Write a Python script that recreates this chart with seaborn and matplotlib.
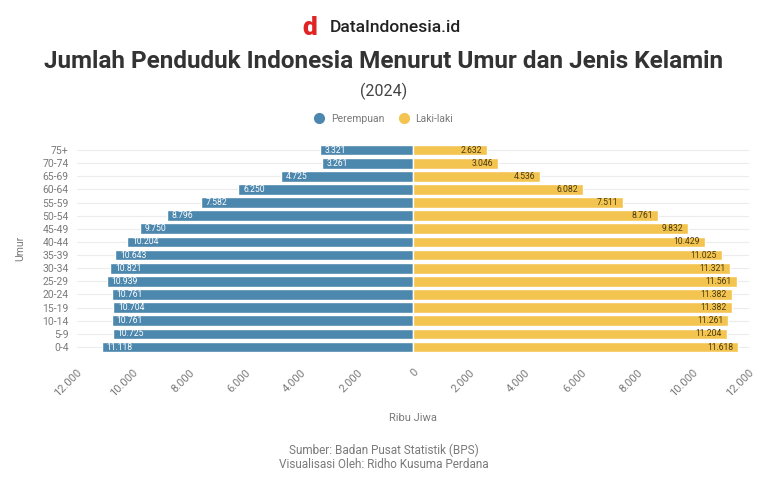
import pandas as pd
import matplotlib.pyplot as plt
import seaborn as sns
from matplotlib.lines import Line2D

# kelompok umur, dari atas ke bawah
ageGroups = ["75+", "70-74", "65-69", "60-64", "55-59", "50-54", "45-49", "40-44",
             "35-39", "30-34", "25-29", "20-24", "15-19", "10-14", "5-9", "0-4"]
# ribu jiwa
femaleValues = [3321, 3261, 4725, 6250, 7582, 8796, 9750, 10204,
                10643, 10821, 10939, 10761, 10704, 10761, 10725, 11118]
maleValues = [2632, 3046, 4536, 6082, 7511, 8761, 9832, 10429,
              11025, 11321, 11561, 11382, 11382, 11261, 11204, 11618]
xTicks = [-12000, -10000, -8000, -6000, -4000, -2000, 0,
          2000, 4000, 6000, 8000, 10000, 12000]

blueColor = "#4c87ae"
yellowColor = "#f3c44f"
grayText = "#7a7a7a"


def fmtNumber(inValue: float) -> str:
    return f"{abs(inValue):,.0f}".replace(",", ".")


dataFrame = pd.DataFrame({
    "Umur": ageGroups * 2,
    "Jumlah": [-v for v in femaleValues] + maleValues,
    "Jenis": ["Perempuan"] * len(ageGroups) + ["Laki-laki"] * len(ageGroups),
})

sns.set_theme(style="white")
plt.rcParams["font.family"] = ["Roboto", "DejaVu Sans"]

fig = plt.figure(figsize=(7.68, 4.8), dpi=100)
ax = fig.add_axes([77 / 768, 0.2606, 672 / 768, 0.4433])

sns.barplot(
    data=dataFrame, y="Umur", x="Jumlah", hue="Jenis", order=ageGroups,
    hue_order=["Perempuan", "Laki-laki"], palette=[blueColor, yellowColor],
    orient="h", dodge=False, width=0.82, legend=False, ax=ax, saturation=1,
)

for pos, (fVal, mVal) in enumerate(zip(femaleValues, maleValues)):
    ax.text(-fVal + 180, pos, fmtNumber(fVal), ha="left", va="center",
            fontsize=6.2, color="white")
    ax.text(mVal - 180, pos, fmtNumber(mVal), ha="right", va="center",
            fontsize=6.2, color="#4a3b10")

ax.set_xlim(-12000, 12000)
ax.set_ylim(len(ageGroups) - 0.4, -0.6)
ax.set_xticks(xTicks)
ax.set_xticklabels([fmtNumber(t) for t in xTicks], rotation=45, ha="right", va="top",
                   rotation_mode="anchor", fontsize=8, color=grayText)
ax.tick_params(axis="y", labelsize=7.5, labelcolor=grayText, length=0, pad=6)
ax.tick_params(axis="x", length=0, pad=9)
ax.yaxis.grid(True, color="#ececec", linewidth=0.8)
ax.set_axisbelow(True)
for spine in ax.spines.values():
    spine.set_visible(False)
ax.set_ylabel("Umur", fontsize=7.5, color=grayText, labelpad=12)
ax.set_xlabel("Ribu Jiwa", fontsize=8, color=grayText, labelpad=10)

# header
fig.text(310 / 768, 1 - 28 / 480, "d", fontsize=19, fontweight="heavy",
         color="#e02424", ha="center", va="center")
fig.text(330 / 768, 1 - 28 / 480, "DataIndonesia.id", fontsize=12.6, fontweight="medium",
         color="#222222", ha="left", va="center")
fig.text(0.5, 1 - 62 / 480, "Jumlah Penduduk Indonesia Menurut Umur dan Jenis Kelamin",
         fontsize=17.5, fontweight="bold", color="#333333", ha="center", va="center")
fig.text(0.5, 1 - 91 / 480, "(2024)", fontsize=11.5, color="#444444",
         ha="center", va="center")

legendHandles = [
    Line2D([0], [0], marker="o", linestyle="", markersize=7, color=blueColor),
    Line2D([0], [0], marker="o", linestyle="", markersize=7, color=yellowColor),
]
fig.legend(legendHandles, ["Perempuan", "Laki-laki"], loc="center",
           bbox_to_anchor=(381 / 768, 1 - 119 / 480), ncol=2, frameon=False,
           fontsize=7.5, labelcolor=grayText, handletextpad=0.1, columnspacing=0.9)

fig.text(0.5, 1 - 450 / 480, "Sumber: Badan Pusat Statistik (BPS)", fontsize=8.5,
         color=grayText, ha="center", va="center")
fig.text(0.5, 1 - 465 / 480, "Visualisasi Oleh: Ridho Kusuma Perdana", fontsize=8.5,
         color=grayText, ha="center", va="center")

fig.savefig("out.png", dpi=100)
